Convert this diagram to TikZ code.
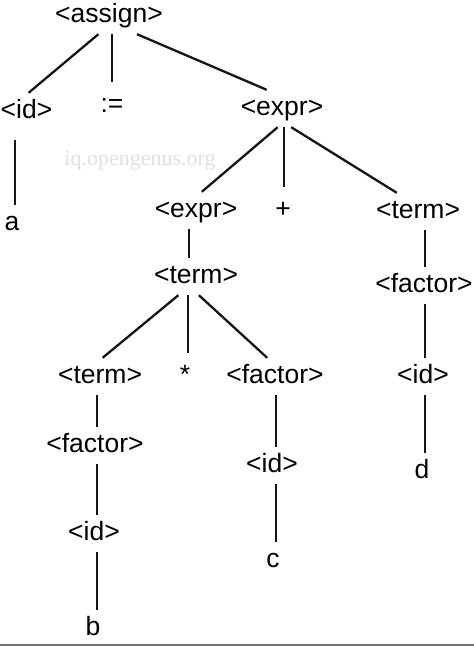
\documentclass[tikz,border=0pt]{standalone}
\usepackage{fontspec}
\setmainfont{Liberation Sans}
\newfontfamily\wmfont{Liberation Serif}
\begin{document}
\begin{tikzpicture}[x=1pt, y=-1pt,
        lbl/.style={anchor=base, font=\fontsize{26.5}{30}\selectfont, text height=19pt, text depth=6pt, inner xsep=0pt, inner ysep=6pt},
        sym/.style={lbl, text height=24pt},
        edge/.style={line width=2.3pt, draw=black!92}]
        \useasboundingbox (0, 0) rectangle (474, 646);
        \node[anchor=base, text=blue!14!gray!22, font=\wmfont\fontsize{22}{24}\selectfont] (mark) at (140, 165) {iq.opengenus.org};
        % labels
        \node[lbl] (assign) at (109, 22) {<assign>};
        \node[lbl] (idA) at (26.5, 118) {<id>};
        \node[sym] (eq) at (112, 112) {:=};
        \node[lbl] (exprA) at (282, 115) {<expr>};
        \node[lbl] (a) at (12, 230) {a};
        \node[lbl] (exprB) at (196, 217) {<expr>};
        \node[sym] (plus) at (283, 217) {+};
        \node[lbl] (termA) at (418, 218) {<term>};
        \node[lbl] (termB) at (196, 283) {<term>};
        \node[lbl] (factorA) at (424, 292) {<factor>};
        \node[lbl] (termC) at (100, 383) {<term>};
        \node[sym] (star) at (185, 383) {*};
        \node[lbl] (factorB) at (275, 383) {<factor>};
        \node[lbl] (idB) at (423, 383) {<id>};
        \node[lbl] (factorC) at (95, 452) {<factor>};
        \node[lbl] (idC) at (272, 472) {<id>};
        \node[lbl] (d) at (422, 478) {d};
        \node[lbl] (idD) at (94, 540) {<id>};
        \node[lbl] (c) at (273, 567) {c};
        \node[lbl] (b) at (93, 635) {b};
        % branches
        \draw[edge] ([xshift=-10.6]assign.south) -- ([xshift=2.1]idA.north);
        \draw[edge] ([xshift=3]assign.south) -- (eq.north);
        \draw[edge] ([xshift=28]assign.south) -- ([xshift=-15.3]exprA.north);
        \draw[edge, shorten <=10pt] ([xshift=-11.5]idA.south) -- ([xshift=3]a.north);
        \draw[edge] ([xshift=-4.3]exprA.south) -- ([xshift=5.8]exprB.north);
        \draw[edge] ([xshift=2]exprA.south) -- ([xshift=1]plus.north);
        \draw[edge] ([xshift=9.2]exprA.south) -- ([xshift=-21.2]termA.north);
        \draw[edge] ([xshift=-7]exprB.south) -- ([xshift=-7]termB.north);
        \draw[edge] ([xshift=7]termA.south) -- ([xshift=1]factorA.north);
        \draw[edge] ([xshift=1]factorA.south) -- ([xshift=2]idB.north);
        \draw[edge] ([xshift=2]idB.south) -- ([xshift=3]d.north);
        \draw[edge] ([xshift=-17.6]termB.south) -- ([xshift=2.6]termC.north);
        \draw[edge] ([xshift=-8]termB.south) -- ([xshift=3]star.north);
        \draw[edge] ([xshift=2.9]termB.south) -- ([xshift=-7.8]factorB.north);
        \draw[edge] ([xshift=-3]termC.south) -- ([xshift=2]factorC.north);
        \draw[edge] ([xshift=2]factorC.south) -- ([xshift=3]idD.north);
        \draw[edge] ([xshift=3]idD.south) -- ([xshift=4]b.north);
        \draw[edge] ([xshift=1]factorB.south) -- ([xshift=4]idC.north);
        \draw[edge] ([xshift=4]idC.south) -- ([xshift=3]c.north);
        % bottom rule
        \fill[black!55] (0, 643.5) rectangle (474, 646);
    \end{tikzpicture}
\end{document}
